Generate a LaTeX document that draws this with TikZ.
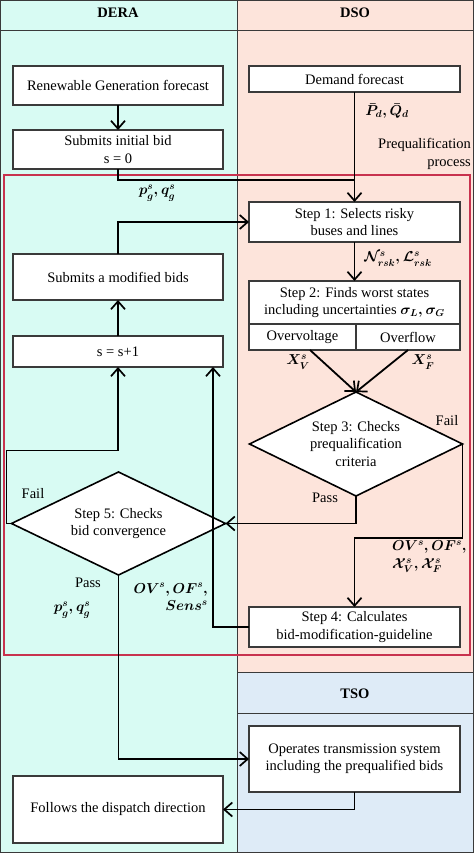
\documentclass[tikz,border=0pt]{standalone}
\usepackage{amsmath,bm}
\usepackage{fontspec}
\setmainfont{Liberation Serif}
\usetikzlibrary{shapes.geometric,arrows.meta,calc}
\definecolor{deraC}{HTML}{D8FBF3}
\definecolor{dsoC}{HTML}{FDE4DB}
\definecolor{tsoC}{HTML}{DEEBF7}
\definecolor{redC}{HTML}{C8324E}
\definecolor{edgeC}{HTML}{3A3A3A}
\begin{document}
\begin{tikzpicture}[x=1pt,y=-1pt,
  font=\fontsize{14.5}{17.5}\selectfont,
  box/.style={draw=edgeC, fill=white, line width=1.3pt, inner sep=2pt, align=center, outer sep=0pt},
  dia/.style={diamond, draw=black, fill=white, line width=1.6pt, inner sep=0pt, aspect=2, align=center, outer sep=0pt},
  conn/.style={line width=1.8pt, draw=black},
  arr/.style={conn, -{Straight Barb[length=8pt,width=14pt,line width=1.7pt]}},
  lab/.style={inner sep=0pt, font=\fontsize{14.5}{17.5}\selectfont\boldmath},
  txt/.style={inner sep=0pt, font=\fontsize{14.5}{17.5}\selectfont},
  head/.style={inner sep=0pt, font=\fontsize{14.5}{17.5}\selectfont\bfseries}]
\useasboundingbox (0,0) rectangle (474,862);
% lanes
\fill[deraC] (0,0) rectangle (237,852);
\fill[dsoC] (237,0) rectangle (473,672);
\fill[tsoC] (237,672) rectangle (473,852);
\draw[edgeC, line width=1pt] (0.5,0.5) rectangle (473,852);
\draw[edgeC, line width=1pt] (0,30) -- (473,30);
\draw[edgeC, line width=1pt] (237,0) -- (237,852);
\draw[edgeC, line width=1pt] (237,672) -- (473,672);
\draw[edgeC, line width=1pt] (237,713) -- (473,713);
\node[head] (hdera) at (118,13) {DERA};
\node[head] (hdso) at (355,13) {DSO};
\node[head] (htso) at (355,694) {TSO};
% prequalification frame
\draw[redC, line width=1.8pt] (4,175) rectangle (470,655);
% boxes
\node[box, minimum width=210pt, minimum height=39pt] (ren) at (118,85.5) {Renewable Generation forecast};
\node[box, minimum width=211pt, minimum height=26pt] (dem) at (354.5,79) {Demand forecast};
\node[box, minimum width=210pt, minimum height=39pt] (init) at (118,149.5) {Submits initial bid\\s = 0};
\node[box, minimum width=211pt, minimum height=40pt] (step1) at (354.5,222) {Step 1: Selects risky\\buses and lines};
\node[box, minimum width=210pt, minimum height=46pt] (mod) at (118,277) {Submits a modified bids};
\node[box, minimum width=210pt, minimum height=31pt] (inc) at (118,351.5) {s = s+1};
\node[box, minimum width=211pt, minimum height=43pt] (step2) at (354.5,302.5) {Step 2: Finds worst states\\including uncertainties {\boldmath$\sigma_L,\sigma_G$}};
\node[box, minimum width=107pt, minimum height=26pt] (ov) at (302.5,337) {Overvoltage};
\node[box, minimum width=104pt, minimum height=26pt] (of) at (408,337) {Overflow};
\node[dia, minimum width=213pt, minimum height=104pt] (step3) at (356,444) {Step 3: Checks\\prequalification\\criteria};
\node[dia, minimum width=214pt, minimum height=103pt] (step5) at (118.5,523.5) {Step 5: Checks\\bid convergence};
\node[box, minimum width=211pt, minimum height=40pt] (step4) at (354.5,627) {Step 4: Calculates\\bid-modification-guideline};
\node[box, minimum width=211pt, minimum height=66pt] (tso) at (354.5,759) {Operates transmission system\\including the prequalified bids};
\node[box, minimum width=210pt, minimum height=67pt] (follow) at (118,809.5) {Follows the dispatch direction};
% labels
\node[lab] (lpq) at (387,111) {$\bar{P}_d,\bar{Q}_d$};
\node[txt, anchor=east, align=right] (lpre) at (471,154) {Prequalification\\process};
\node[lab] (lpg1) at (157,193) {$p_g^s, q_g^s$};
\node[lab] (lnl) at (398,259) {$\mathcal{N}^s_{rsk},\mathcal{L}^s_{rsk}$};
\node[lab] (lxv) at (298,362) {$X_V^s$};
\node[lab] (lxf) at (423,362) {$X_F^s$};
\node[txt] (lfail1) at (447,421) {Fail};
\node[txt] (lpass1) at (325,498) {Pass};
\node[txt] (lfail2) at (33,494) {Fail};
\node[lab, anchor=west, align=left] (lov1) at (392,557) {$OV^s,OF^s,$\\$\mathcal{X}_V^s,\mathcal{X}_F^s$};
\node[lab, anchor=east, align=right] (lov2) at (208,597) {$OV^s,OF^s,$\\$Sens^s$};
\node[txt] (lpass2) at (88,583) {Pass};
\node[lab] (lpg2) at (72,610) {$p_g^s, q_g^s$};
% connectors
\coordinate (j1) at (354.5,180);
\coordinate (f3) at (462.5,538);
\draw[arr] (ren.south) -- (init.north);
\draw[conn] (init.south) |- (j1);
\draw[arr] (dem.south) -- (step1.north);
\draw[arr] (mod.north) |- (step1.west);
\draw[arr] (inc.north) -- (mod.south);
\draw[arr] (step1.south) -- (step2.north);
\draw[arr] ([xshift=7.5pt]ov.south) -- (step3.north);
\draw[arr] (of.south) -- (step3.north);
\draw[arr] (step3.east) -- (f3) -| (step4.north);
\draw[arr] (step3.south) |- (step5.east);
\draw[arr] (step4.west) -| ([xshift=95pt]inc.south);
\draw[arr] (step5.west) -- ++(-5,0) -- ++(0,-73) -| (inc.south);
\draw[arr] (step5.south) |- (tso.west);
\draw[arr] (tso.south) |- (follow.east);
\end{tikzpicture}
\end{document}
